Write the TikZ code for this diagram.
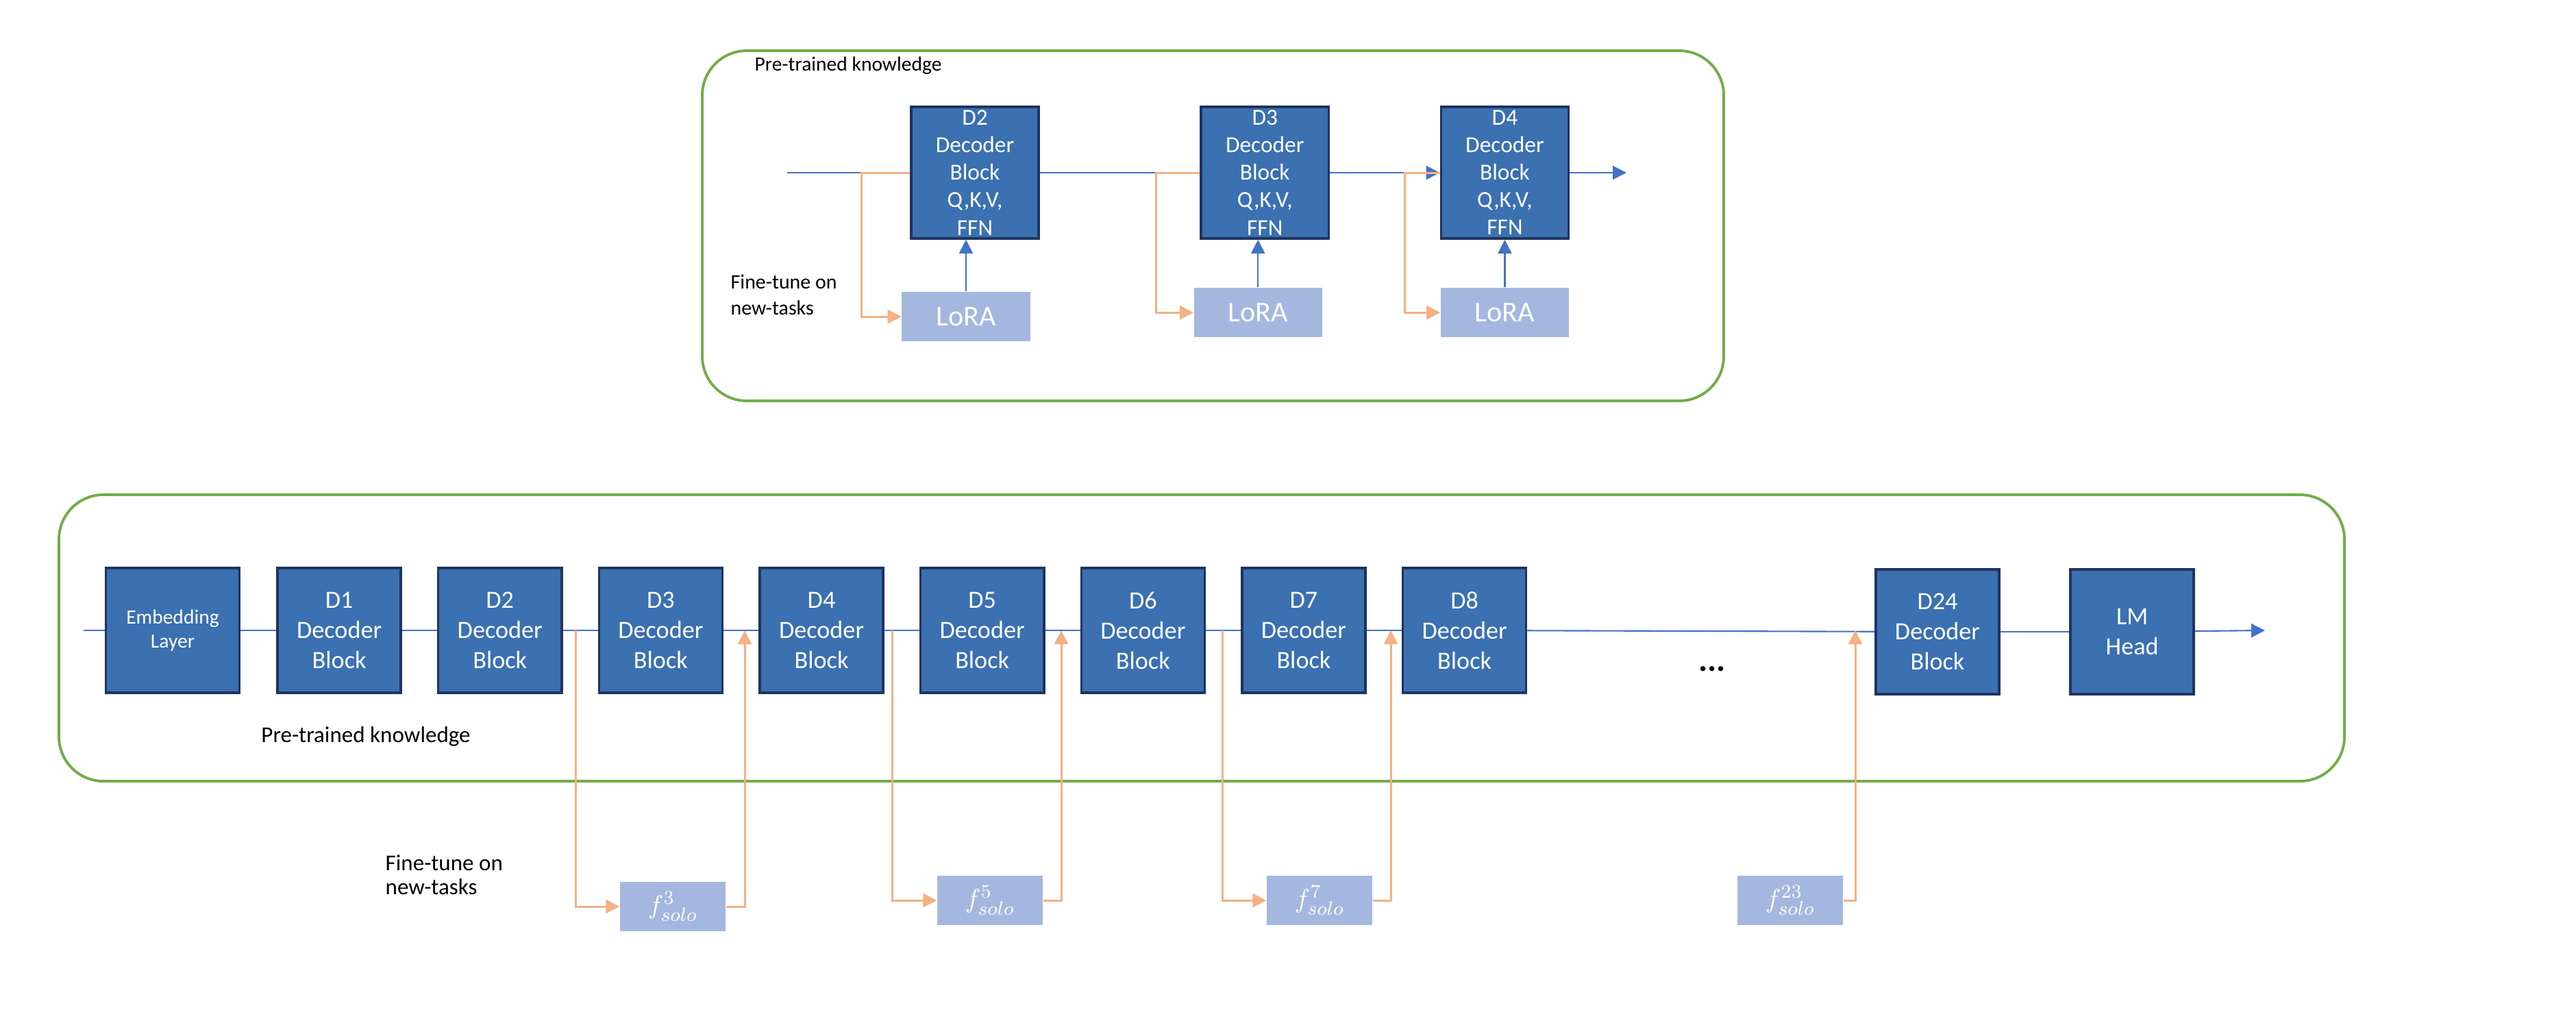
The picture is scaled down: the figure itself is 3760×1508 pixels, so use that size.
\documentclass[tikz,border=0pt]{standalone}
\usepackage{fontspec}
\setmainfont{Carlito}
\usepackage{tikz}
\usetikzlibrary{arrows.meta}
\definecolor{blockblue}{RGB}{59,112,177}
\definecolor{blockedge}{RGB}{31,52,94}
\definecolor{lorablue}{RGB}{164,183,222}
\definecolor{lineblue}{RGB}{68,114,196}
\definecolor{tuneorange}{RGB}{244,177,131}
\definecolor{panelgreen}{RGB}{112,173,71}
\tikzstyle{block} = [rectangle, minimum width=1.8cm, minimum height=1.82cm, text centered, align=center, draw=blockedge, line width=1pt, fill=blockblue, text=white, inner sep=0pt, font=\fontsize{10.3}{12.5}\selectfont]
\tikzstyle{topblock} = [block, minimum width=1.86cm, minimum height=1.92cm, font=\fontsize{9.5}{11.4}\selectfont]
\tikzstyle{lora} = [rectangle, minimum width=1.87cm, minimum height=0.72cm, fill=lorablue, text=white, font=\fontsize{12}{14}\selectfont]
\tikzstyle{solo} = [rectangle, minimum width=1.54cm, minimum height=0.72cm, fill=lorablue, text=white, font=\fontsize{11}{13}\selectfont]
\tikzstyle{note} = [inner sep=0pt, align=left, text=black]
\tikzstyle{panel} = [draw=panelgreen, line width=1.1pt, rounded corners=0.65cm]
\tikzstyle{flow} = [draw=lineblue, line width=0.6pt]
\tikzstyle{arrow} = [flow, -{Triangle[length=0.2cm,width=0.2cm]}]
\tikzstyle{tune} = [draw=tuneorange, line width=0.85pt, -{Triangle[length=0.2cm,width=0.2cm]}]

\begin{document}
\begin{tikzpicture}[x=0.01cm, y=-0.01cm, node distance=2.345cm]
\useasboundingbox (0,0) rectangle (3760,1508);

% LoRA panel
\draw[panel] (1025,74) rectangle (2516,585);
\node (ptk1) [note, anchor=west, font=\fontsize{8.4}{10}\selectfont] at (1101,96) {Pre-trained knowledge};
\node (ft1) [note, anchor=west, font=\fontsize{8.5}{10.9}\selectfont] at (1066,430) {Fine-tune on\\new-tasks};

\node (td2) [topblock] at (1423,252) {D2\\Decoder\\Block\\Q,K,V,\\FFN};
\node (td3) [topblock, right of=td2, node distance=4.23cm] {D3\\Decoder\\Block\\Q,K,V,\\FFN};
\node (td4) [topblock, right of=td3, node distance=3.5cm] {D4\\Decoder\\Block\\Q,K,V,\\FFN};
\node (lora2) [lora, below of=td2, node distance=2.1cm, xshift=-0.13cm] {LoRA};
\node (lora3) [lora, below of=td3, node distance=2.04cm, xshift=-0.1cm] {LoRA};
\node (lora4) [lora, below of=td4, node distance=2.04cm] {LoRA};

\coordinate (tin) at (1149,252);
\coordinate (tout) at (2374,252);
\coordinate (tb2) at (1257,252);
\coordinate (tb3) at (1687,252);
\coordinate (tb4) at (2050,252);

\draw[flow] (tin) -- (td2);
\draw[flow] (td2) -- (td3);
\draw[arrow] (td3) -- (td4);
\draw[arrow] (td4) -- (tout);
\draw[arrow] (lora2.north) -- (lora2.north |- td2.south);
\draw[arrow] (lora3.north) -- (lora3.north |- td3.south);
\draw[arrow] (lora4.north) -- (lora4.north |- td4.south);
\draw[tune] (td2.west) -- (tb2) |- (lora2.west);
\draw[tune] (td3.west) -- (tb3) |- (lora3.west);
\draw[tune] (td4.west) -- (tb4) |- (lora4.west);

% solo panel
\draw[panel] (86,722) rectangle (3422,1140);
\node (emb) [block, minimum width=1.95cm, font=\fontsize{8.4}{10}\selectfont] at (252,920) {Embedding\\Layer};
\node (d1) [block, right of=emb, node distance=2.43cm] {D1\\Decoder\\Block};
\node (d2) [block, right of=d1] {D2\\Decoder\\Block};
\node (d3) [block, right of=d2] {D3\\Decoder\\Block};
\node (d4) [block, right of=d3] {D4\\Decoder\\Block};
\node (d5) [block, right of=d4] {D5\\Decoder\\Block};
\node (d6) [block, right of=d5] {D6\\Decoder\\Block};
\node (d7) [block, right of=d6] {D7\\Decoder\\Block};
\node (d8) [block, right of=d7] {D8\\Decoder\\Block};
\node (d24) [block] at (2828,922) {D24\\Decoder\\Block};
\node (lm) [block, right of=d24, node distance=2.84cm] {LM\\Head};
\node (dots) [note, font=\bfseries\fontsize{14}{16}\selectfont] at (2499,976) {...};
\node (ptk2) [note, font=\fontsize{9.4}{11}\selectfont] at (534,1075) {Pre-trained knowledge};
\node (ft2) [note, anchor=west, font=\fontsize{9.4}{10}\selectfont] at (562,1277) {Fine-tune on\\new-tasks};

\node (f3) [solo] at (982,1323) {$f^{3}_{solo}$};
\node (f5) [solo] at (1445,1314) {$f^{5}_{solo}$};
\node (f7) [solo] at (1926,1314) {$f^{7}_{solo}$};
\node (f23) [solo] at (2613,1314) {$f^{23}_{solo}$};

\coordinate (bin) at (122,920);
\coordinate (bout) at (3306,920);
\coordinate (s3) at (840,920);
\coordinate (e3) at (1087,920);
\coordinate (s5) at (1302,920);
\coordinate (e5) at (1549,920);
\coordinate (s7) at (1784,920);
\coordinate (e7) at (2030,920);
\coordinate (e23) at (2708,920);

\draw[flow] (bin) -- (emb);
\draw[flow] (emb) -- (d1);
\draw[flow] (d1) -- (d2);
\draw[flow] (d2) -- (d3);
\draw[flow] (d3) -- (d4);
\draw[flow] (d4) -- (d5);
\draw[flow] (d5) -- (d6);
\draw[flow] (d6) -- (d7);
\draw[flow] (d7) -- (d8);
\draw[flow] (d8) -- (d24);
\draw[flow] (d24) -- (lm);
\draw[arrow] (lm) -- (bout);

\draw[tune] (s3) |- (f3.west);
\draw[tune] (f3.east) -| (e3);
\draw[tune] (s5) |- (f5.west);
\draw[tune] (f5.east) -| (e5);
\draw[tune] (s7) |- (f7.west);
\draw[tune] (f7.east) -| (e7);
\draw[tune] (f23.east) -| (e23);
\end{tikzpicture}
\end{document}
